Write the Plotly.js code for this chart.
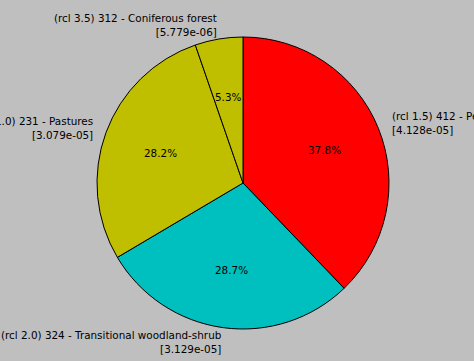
<!DOCTYPE html>
<html>
<head>
<meta charset="utf-8">
<script src="https://cdn.plot.ly/plotly-3.0.1.min.js"></script>
<style>html,body{margin:0;padding:0;background:#bfbfbf;}#chart{width:474px;height:361px;}</style>
</head>
<body>
<div id="chart"></div>
<script>
// Data (slice order: clockwise from 12 o'clock)
const labels = [
  "(rcl 1.5) 412 - Peat bogs",
  "(rcl 2.0) 324 - Transitional woodland-shrub",
  "(rcl 1.0) 231 - Pastures",
  "(rcl 3.5) 312 - Coniferous forest"
];
const values = [4.128e-05, 3.129e-05, 3.079e-05, 5.779e-06];
const valueLabels = ["[4.128e-05]", "[3.129e-05]", "[3.079e-05]", "[5.779e-06]"];
const colors = ["#ff0000", "#00bfbf", "#bfbf00", "#bfbf00"];

const W = 474, H = 361;
const cx = 243, cy = 183, R = 146;
const domX = [(cx - R) / W, (cx + R) / W];
const domY = [1 - (cy + R) / H, 1 - (cy - R) / H];

const total = values.reduce((a, b) => a + b, 0);
const annotations = [];
let cum = 0;
const font = {family: "DejaVu Sans", size: 10.4, color: "#000"};
values.forEach((v, i) => {
  const frac = v / total;
  const mid = (cum + frac / 2) * 2 * Math.PI; // clockwise from top
  cum += frac;
  const s = Math.sin(mid), c = Math.cos(mid);
  // percent label at 0.6 R
  annotations.push({
    xref: "paper", yref: "paper",
    x: (cx + 0.6 * R * s) / W, y: 1 - (cy - 0.6 * R * c) / H,
    text: (frac * 100).toFixed(1) + "%",
    showarrow: false, xanchor: "center", yanchor: "middle", font: font
  });
  // outer label at 1.1 R
  const lx = cx + 1.1 * R * s, ly = cy - 1.1 * R * c;
  const right = s > 0;
  annotations.push({
    xref: "paper", yref: "paper",
    x: lx / W, y: 1 - ly / H,
    xshift: right ? -1 : 2,
    text: labels[i] + "<br>" + valueLabels[i],
    showarrow: false, xanchor: right ? "left" : "right", align: right ? "left" : "right",
    yanchor: "middle", font: font, borderpad: 0
  });
});

const data = [{
  type: "pie",
  values: values,
  labels: labels,
  sort: false,
  direction: "clockwise",
  rotation: 0,
  textinfo: "none",
  hoverinfo: "none",
  marker: {colors: colors, line: {color: "#000", width: 1}},
  domain: {x: domX, y: domY},
  showlegend: false
}];

const layout = {
  width: W, height: H,
  margin: {l: 0, r: 0, t: 0, b: 0},
  paper_bgcolor: "#bfbfbf",
  plot_bgcolor: "#bfbfbf",
  showlegend: false,
  annotations: annotations,
  font: font
};

Plotly.newPlot("chart", data, layout, {displayModeBar: false, staticPlot: true});
</script>
</body>
</html>
